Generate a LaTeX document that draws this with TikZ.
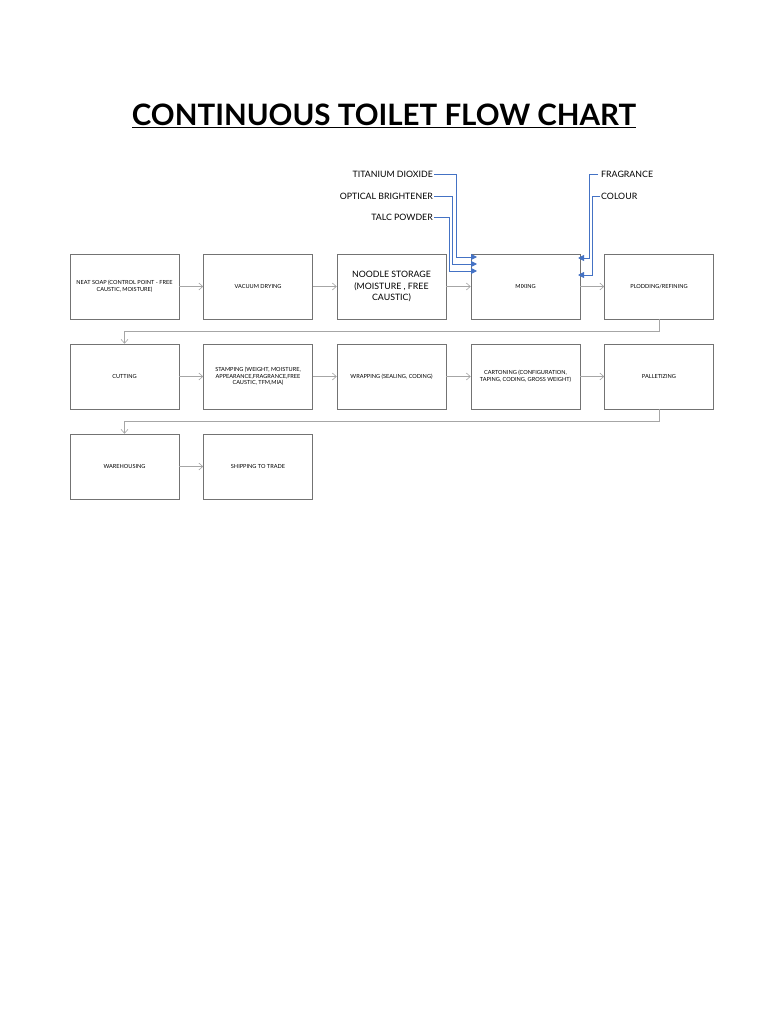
\documentclass[tikz,border=0pt]{standalone}
\usepackage{fontspec}
\setmainfont{Lato}
\usetikzlibrary{arrows.meta}
\begin{document}
\begin{tikzpicture}[x=1pt,y=-1pt,
  box/.style={draw=black!55,line width=0.5pt,minimum width=109pt,minimum height=65pt,align=center,font=\fontsize{5.6}{6.6}\selectfont,inner sep=1pt},
  flow/.style={draw=black!35,line width=0.6pt,-{Straight Barb[length=4pt,width=7pt]}},
  feed/.style={draw={rgb,255:red,68;green,114;blue,196},line width=0.9pt,-{Triangle[length=6pt,width=6pt]}},
  lab/.style={font=\fontsize{8.8}{10}\selectfont,inner sep=0pt}]
\useasboundingbox (0,0) rectangle (768,1024);
\node[font=\bfseries\fontsize{29.5}{32}\selectfont] (t) at (384,116) {\underline{CONTINUOUS TOILET FLOW CHART}};
\node[box] (a1) at (124.5,286.5) {NEAT SOAP (CONTROL POINT - FREE\\CAUSTIC, MOISTURE)};
\node[box] (a2) at (258,286.5) {VACUUM DRYING};
\node[box,font=\fontsize{8.8}{11.5}\selectfont] (a3) at (391.5,286.5) {NOODLE STORAGE\\(MOISTURE , FREE\\CAUSTIC)};
\node[box] (a4) at (525.5,286.5) {MIXING};
\node[box] (a5) at (659,286.5) {PLODDING/REFINING};
\node[box] (b1) at (124.5,376.5) {CUTTING};
\node[box] (b2) at (258,376.5) {STAMPING (WEIGHT, MOISTURE,\\APPEARANCE,FRAGRANCE,FREE\\CAUSTIC, TFM,MIA)};
\node[box] (b3) at (391.5,376.5) {WRAPPING (SEALING, CODING)};
\node[box] (b4) at (525.5,376.5) {CARTONING (CONFIGURATION,\\TAPING, CODING, GROSS WEIGHT)};
\node[box] (b5) at (659,376.5) {PALLETIZING};
\node[box] (c1) at (124.5,466.5) {WAREHOUSING};
\node[box] (c2) at (258,466.5) {SHIPPING TO TRADE};
\foreach \p/\q in {a1/a2,a2/a3,a3/a4,a4/a5,b1/b2,b2/b3,b3/b4,b4/b5,c1/c2}
  \draw[flow] (\p) -- (\q);
\draw[flow] (a5.south) -- ++(0,12) -| (b1.north);
\draw[flow] (b5.south) -- ++(0,12) -| (c1.north);
\node[lab,anchor=east] (ti) at (433,174) {TITANIUM DIOXIDE};
\node[lab,anchor=east] (ob) at (433,196) {OPTICAL BRIGHTENER};
\node[lab,anchor=east] (tp) at (433,217) {TALC POWDER};
\node[lab,anchor=west] (fr) at (601,174) {FRAGRANCE};
\node[lab,anchor=west] (co) at (601,196) {COLOUR};
\coordinate (m1) at (477,257); \coordinate (m2) at (477,264); \coordinate (m3) at (477,271);
\coordinate (m4) at (578,258); \coordinate (m5) at (578,275);
\draw[feed] ([xshift=1pt]ti.east) -| (456,257) -- (m1);
\draw[feed] ([xshift=1pt]ob.east) -| (452,264) -- (m2);
\draw[feed] ([xshift=1pt]tp.east) -| (449,271) -- (m3);
\draw[feed] ([xshift=-3pt]fr.west) -| (589,258) -- (m4);
\draw[feed] ([xshift=-1pt]co.west) -| (592,275) -- (m5);
\end{tikzpicture}
\end{document}
